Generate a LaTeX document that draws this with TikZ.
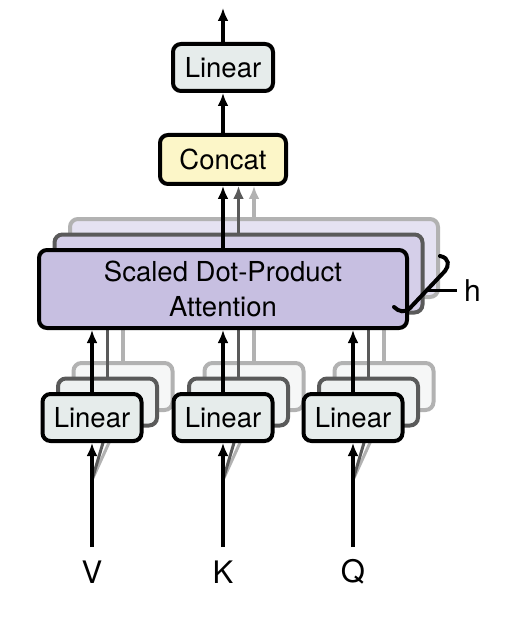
\documentclass[tikz,border=0pt]{standalone}
\usepackage{fontspec}
\setmainfont{TeX Gyre Heros}
\usetikzlibrary{arrows.meta}
\definecolor{bord1}{RGB}{0,0,0}
\definecolor{bord2}{RGB}{90,90,90}
\definecolor{bord3}{RGB}{178,178,178}
\definecolor{att1}{RGB}{199,191,225}
\definecolor{att2}{RGB}{213,207,233}
\definecolor{att3}{RGB}{229,226,242}
\definecolor{lin1}{RGB}{230,236,235}
\definecolor{lin2}{RGB}{238,241,241}
\definecolor{lin3}{RGB}{246,247,247}
\definecolor{concatfill}{RGB}{252,246,200}
\begin{document}
\begin{tikzpicture}[x=1pt,y=-1pt,
  box/.style={draw, line width=4pt, rounded corners=8pt, inner sep=0pt, align=center,
    font=\fontsize{27.5}{35}\selectfont},
  linbox/.style={box, minimum width=99pt, minimum height=47pt},
  attbox/.style={box, minimum width=368pt, minimum height=78pt},
  arr/.style={line width=3.5pt, -{Latex[length=13pt,width=11pt]}},
  lbl/.style={font=\fontsize{31}{36}\selectfont, inner sep=0pt}]
\useasboundingbox[fill=white] (0,0) rectangle (519,628);

% input coordinates
\coordinate (inV) at (92,547);
\coordinate (inK) at (223,547);
\coordinate (inQ) at (353,547);
\coordinate (dV) at (92,480);
\coordinate (dK) at (223,480);
\coordinate (dQ) at (353,480);

% back layers
\foreach \k/\o in {3/31,2/15.5} {
  \node[attbox, draw=bord\k, fill=att\k] (attL\k) at (223+\o,289-\o) {};
  \node[linbox, draw=bord\k, fill=lin\k] (linA\k) at (92+\o,417.5-\o) {};
  \node[linbox, draw=bord\k, fill=lin\k] (linB\k) at (223+\o,417.5-\o) {};
  \node[linbox, draw=bord\k, fill=lin\k] (linC\k) at (353+\o,417.5-\o) {};
  \draw[line width=3.5pt, draw=bord\k] (linA\k.north) -- (linA\k.north |- attL\k.south);
  \draw[line width=3.5pt, draw=bord\k] (linB\k.north) -- (linB\k.north |- attL\k.south);
  \draw[line width=3.5pt, draw=bord\k] (linC\k.north) -- (linC\k.north |- attL\k.south);
  \draw[line width=3pt, draw=bord\k] (dV) -- (linA\k.south);
  \draw[line width=3pt, draw=bord\k] (dK) -- (linB\k.south);
  \draw[line width=3pt, draw=bord\k] (dQ) -- (linC\k.south);
  \draw[arr, draw=bord\k] (attL\k.north) -- (attL\k.north |- 0,186);
}

% front layer
\node[attbox, fill=att1] (attL1) at (223,289) {Scaled Dot-Product\\Attention};
\node[linbox, fill=lin1] (linA1) at (92,417.5) {Linear};
\node[linbox, fill=lin1] (linB1) at (223,417.5) {Linear};
\node[linbox, fill=lin1] (linC1) at (353,417.5) {Linear};
\draw[arr] (linA1.north) -- (linA1.north |- attL1.south);
\draw[arr] (linB1.north) -- (linB1.north |- attL1.south);
\draw[arr] (linC1.north) -- (linC1.north |- attL1.south);
\draw[arr] (inV) -- (linA1.south);
\draw[arr] (inK) -- (linB1.south);
\draw[arr] (inQ) -- (linC1.south);

% top part
\node[box, fill=concatfill, minimum width=126pt, minimum height=49pt] (concat) at (223,159.5) {Concat};
\node[linbox, minimum width=100pt, fill=lin1] (linT) at (223,67.5) {Linear};
\coordinate (out) at (223,8);
\draw[arr] (attL1.north) -- (concat.south);
\draw[arr] (concat.north) -- (linT.south);
\draw[arr] (linT.north) -- (out);

% labels
\node[lbl] (V) at (92,572) {V};
\node[lbl] (K) at (223,572) {K};
\node[lbl] (Q) at (353,572) {Q};

% brace and h
\coordinate (bt) at (440,256);
\coordinate (bb) at (394,307);
\draw[line width=4pt, line cap=round] (bt) .. controls (450,258) and (449,266) .. (445,271)
  -- (410,308) .. controls (405,313) and (399,312) .. (bb);
\coordinate (hs) at (427,290);
\node[lbl, font=\fontsize{30}{34}\selectfont, anchor=west] (h) at (464,291) {h};
\coordinate (he) at (457,290);
\draw[line width=3pt] (hs) -- (he);
\end{tikzpicture}
\end{document}
